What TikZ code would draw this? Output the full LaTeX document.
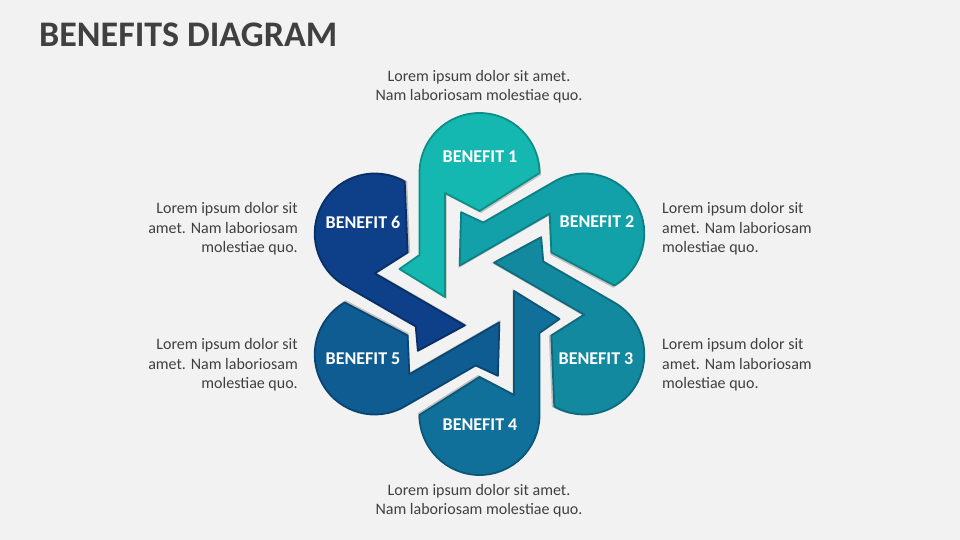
\documentclass[tikz,border=0pt]{standalone}
\usepackage{fontspec}
\setmainfont{Carlito}
\begin{document}
\begin{tikzpicture}[x=1pt,y=1pt,
  lbl/.style={text=white,font=\bfseries\fontsize{18}{20}\selectfont},
  desc/.style={text=black!75,font=\fontsize{16}{19.3}\selectfont,inner sep=0pt},
  petal/.style={line width=1.8pt,line join=round}]
\fill[black!5] (0,0) rectangle (960,540);
\useasboundingbox (0,0) rectangle (960,540);
\node[anchor=west,text=black!75,font=\bfseries\fontsize{36}{40}\selectfont,inner sep=0pt] (title) at (39,505) {BENEFITS DIAGRAM};
\def\petalpath{(60,121) arc[start angle=0,end angle=180,radius=60] -- (-60,39) -- (-80,25) -- (-34.5,-3) -- (-34.5,101) -- (0,83) -- cycle}
\foreach \k/\fc/\dc in {0/14B8B0/0F8E88,1/12A1A8/0D7F85,2/1389A0/0E6B7E,3/10709A/0B5778,4/0F5C92/0A4572,5/0D4088/092F66}{
  \definecolor{fc}{HTML}{\fc}\definecolor{dc}{HTML}{\dc}
  \begin{scope}[shift={(479.5,246)},rotate=-60*\k]
    \fill[black!25,shift={(1.5,-2)}] \petalpath;
    \draw[petal,fill=fc,draw=dc] \petalpath;
  \end{scope}
}
\node[lbl] (b1) at (480,383) {BENEFIT 1};
\node[lbl] (b2) at (597,318) {BENEFIT 2};
\node[lbl] (b3) at (596,181) {BENEFIT 3};
\node[lbl] (b4) at (480,115) {BENEFIT 4};
\node[lbl] (b5) at (363,181) {BENEFIT 5};
\node[lbl] (b6) at (363,318) {BENEFIT 6};
\node[desc,align=center] (t1) at (479,453) {Lorem ipsum dolor sit amet.\\Nam laboriosam molestiae quo.};
\node[desc,align=center] (t4) at (479,39) {Lorem ipsum dolor sit amet.\\Nam laboriosam molestiae quo.};
\node[desc,align=left,anchor=west] (t2) at (662,311) {Lorem ipsum dolor sit\\amet. Nam laboriosam\\molestiae quo.};
\node[desc,align=left,anchor=west] (t3) at (662,175) {Lorem ipsum dolor sit\\amet. Nam laboriosam\\molestiae quo.};
\node[desc,align=right,anchor=east] (t6) at (298,311) {Lorem ipsum dolor sit\\amet. Nam laboriosam\\molestiae quo.};
\node[desc,align=right,anchor=east] (t5) at (298,175) {Lorem ipsum dolor sit\\amet. Nam laboriosam\\molestiae quo.};
\end{tikzpicture}
\end{document}
